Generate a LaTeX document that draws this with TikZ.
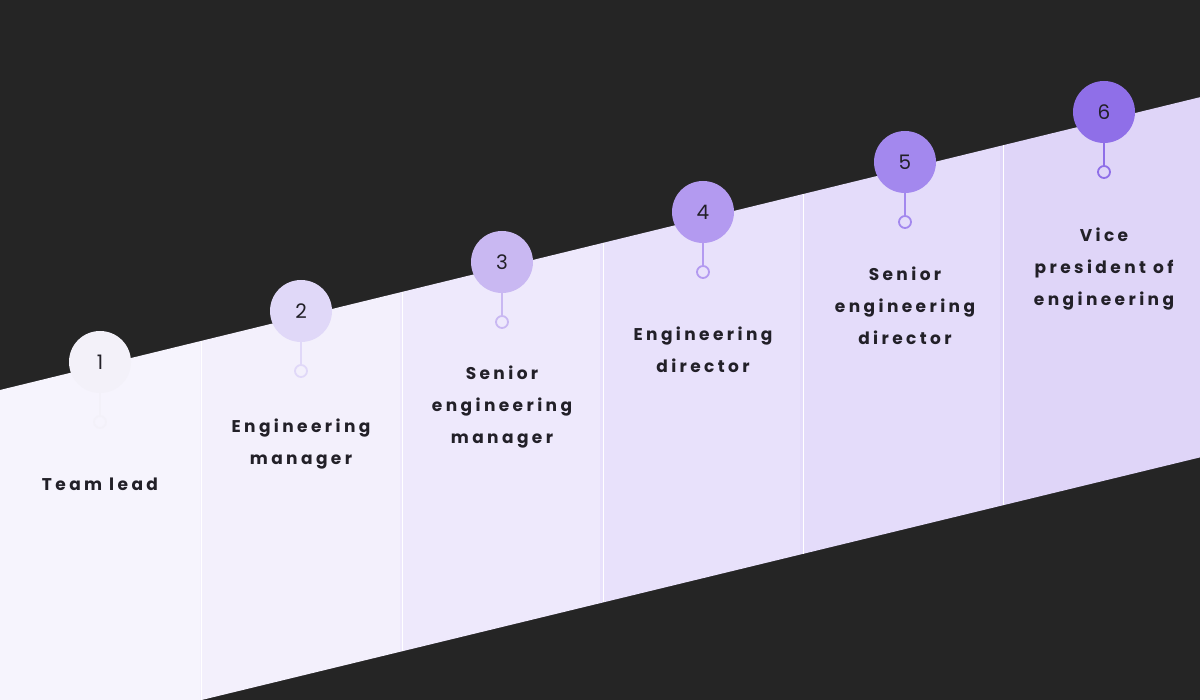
\documentclass[tikz,border=0pt]{standalone}
\usepackage{fontspec}
\newfontfamily\labelfont[LetterSpace=20]{Poppins}
\newfontfamily\numfont{Poppins}
\definecolor{bgdark}{HTML}{252525}
\definecolor{colA}{HTML}{F6F4FD}
\definecolor{colB}{HTML}{F3F0FC}
\definecolor{colC}{HTML}{EEE9FC}
\definecolor{colD}{HTML}{E8E1FB}
\definecolor{colE}{HTML}{E4DCFA}
\definecolor{colF}{HTML}{DFD5F8}
\definecolor{dotA}{HTML}{F3F1F9}
\definecolor{dotB}{HTML}{E0D8F8}
\definecolor{dotC}{HTML}{C9B8F2}
\definecolor{dotD}{HTML}{B39AF0}
\definecolor{dotE}{HTML}{A388EE}
\definecolor{dotF}{HTML}{8F6FE8}
\definecolor{txt}{HTML}{222028}
\tikzset{
  stage/.style={circle,minimum size=62pt,inner sep=0pt,text=txt,font=\numfont\fontsize{20}{20}\selectfont},
  ring/.style={circle,draw,line width=1.8pt,minimum size=12pt,inner sep=0pt},
  role/.style={align=center,text=txt,font=\labelfont\bfseries\fontsize{17}{32}\selectfont}
}
\begin{document}
\begin{tikzpicture}[x=1pt,y=-1pt]
\useasboundingbox (0,0) rectangle (1200,700);
\clip (0,0) rectangle (1200,700);
\fill[bgdark] (0,0) rectangle (1200,700);
% columns of the band
\foreach \i/\c in {0/colA,1/colB,2/colC,3/colD,4/colE,5/colF}{
  \pgfmathsetmacro{\xa}{200*\i}
  \pgfmathsetmacro{\xb}{200*\i+200}
  \fill[\c] (\xa,390-0.244*\xa) -- (\xb,390-0.244*\xb) -- (\xb,749-0.243*\xb) -- (\xa,749-0.243*\xa) -- cycle;
}
\foreach \x in {201,402,603,803,1003}
  \draw[white,line width=1pt] (\x,390-0.244*\x) -- (\x,749-0.243*\x);
% stages
\foreach \n/\x/\y/\c/\f in {1/100/362/dotA/colA,2/301/311/dotB/colB,3/502/262/dotC/colC,4/703/212/dotD/colD,5/905/162/dotE/colE,6/1104/112/dotF/colF}{
  \node[stage,fill=\c] (s\n) at (\x,\y) {\n};
  \node[ring,draw=\c,fill=\f] (r\n) at (\x,\y+60) {};
  \draw[\c,line width=2pt] (s\n.south) -- (r\n.north);
}
\node[role] (l1) at (100,484) {Team lead};
\node[role] (l2) at (301,444) {Engineering\\manager};
\node[role] (l3) at (502,407) {Senior\\engineering\\manager};
\node[role] (l4) at (703,350) {Engineering\\director};
\node[role] (l5) at (905,306) {Senior\\engineering\\director};
\node[role] (l6) at (1104,269) {Vice\\president of\\engineering};
\end{tikzpicture}
\end{document}
